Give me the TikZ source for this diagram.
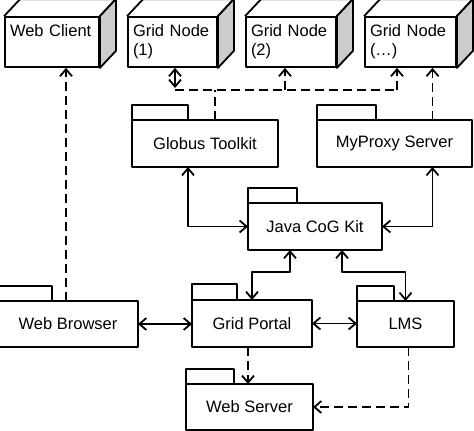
\documentclass[tikz,border=0pt]{standalone}
\usepackage{fontspec}
\setmainfont{Liberation Sans}
\usetikzlibrary{arrows.meta}
\begin{document}
\begin{tikzpicture}[x=1pt, y=-1pt, line width=1.8pt, line join=round,
	font=\fontsize{16.5}{19}\selectfont,
	>={Straight Barb[length=7pt, width=12pt]},
	pkg/.style={draw, rectangle, inner sep=0pt, outer sep=0pt},
	box3d/.style={draw, rectangle, inner xsep=5pt, align=left},
	sline/.style={line width=1.8pt},
	dline/.style={line width=1.8pt, dash pattern=on 9pt off 5pt}]
	\useasboundingbox (0,0) rectangle (474,431);
	
	% Các nút 3D phía trên
	\node[box3d, minimum width=94, minimum height=50, text width=84] (client) at (52,42) {Web Client\\\vphantom{(1)}};
	\node[box3d, minimum width=89, minimum height=50, text width=79] (g1) at (172.5,42) {Grid Node\\(1)};
	\node[box3d, minimum width=90, minimum height=50, text width=80] (g2) at (291,42) {Grid Node\\(2)};
	\node[box3d, minimum width=91, minimum height=50, text width=81] (gN) at (410.5,42) {Grid Node\\(\dots)};
	% Mặt trên và mặt phải
	\draw (client.north west) -- ++(16,-17) -- ([shift={(16,-17)}]client.north east) -- (client.north east);
	\draw[fill=gray!40] (client.north east) -- ([shift={(16,-17)}]client.north east) -- ([shift={(16,-17)}]client.south east) -- (client.south east) -- cycle;
	\draw (g1.north west) -- ++(16,-17) -- ([shift={(16,-17)}]g1.north east) -- (g1.north east);
	\draw[fill=gray!40] (g1.north east) -- ([shift={(16,-17)}]g1.north east) -- ([shift={(16,-17)}]g1.south east) -- (g1.south east) -- cycle;
	\draw (g2.north west) -- ++(16,-17) -- ([shift={(16,-17)}]g2.north east) -- (g2.north east);
	\draw[fill=gray!40] (g2.north east) -- ([shift={(16,-17)}]g2.north east) -- ([shift={(16,-17)}]g2.south east) -- (g2.south east) -- cycle;
	\draw (gN.north west) -- ++(16,-17) -- ([shift={(16,-17)}]gN.north east) -- (gN.north east);
	\draw[fill=gray!40] (gN.north east) -- ([shift={(16,-17)}]gN.north east) -- ([shift={(16,-17)}]gN.south east) -- (gN.south east) -- cycle;
	
	% Các gói (package)
	\node[pkg, minimum width=146, minimum height=47] (globus) at (205,143.5) {Globus Toolkit};
	\node[pkg, minimum width=155, minimum height=47] (myproxy) at (394.5,143.5) {MyProxy Server};
	\node[pkg, minimum width=134, minimum height=47] (java) at (315,226.5) {Java CoG Kit};
	\node[pkg, minimum width=140, minimum height=46] (browser) at (68,324) {Web Browser};
	\node[pkg, minimum width=120, minimum height=47] (portal) at (252,323.5) {Grid Portal};
	\node[pkg, minimum width=97, minimum height=46] (lms) at (405.5,324) {LMS};
	\node[pkg, minimum width=127, minimum height=46] (webserver) at (249.5,407) {Web Server};
	% Tab của gói
	\draw (globus.north west) -- ++(0,-15) -- ++(56,0) -- ++(0,15);
	\draw (myproxy.north west) -- ++(0,-15) -- ++(59,0) -- ++(0,15);
	\draw (java.north west) -- ++(0,-15) -- ++(49,0) -- ++(0,15);
	\draw (browser.north west) -- ++(0,-15) -- ++(54,0) -- ++(0,15);
	\draw (portal.north west) -- ++(0,-16) -- ++(45,0) -- ++(0,16);
	\draw (lms.north west) -- ++(0,-15) -- ++(37,0) -- ++(0,15);
	\draw (webserver.north west) -- ++(0,-15) -- ++(48,0) -- ++(0,15);
	
	% Đường nét đứt nối tới các Grid Node
	\coordinate (bus) at (0,90);
	\coordinate (jrow) at (0,272);
	\draw[dline] ([xshift=10pt]globus.north) -- ([xshift=10pt]globus.north |- bus);
	\draw[dline] ([xshift=2.5pt]g1.south |- bus) -- ([xshift=-13.5pt]gN.south |- bus);
	\draw[sline, <->] ([xshift=2.5pt]g1.south) -- ([xshift=2.5pt, yshift=2pt]g1.south |- bus);
	\draw[dline, ->] ([xshift=-6pt]g2.south |- bus) -- ([xshift=-6pt]g2.south);
	\draw[dline, ->] ([xshift=-13.5pt]gN.south |- bus) -- ([xshift=-13.5pt]gN.south);
	\draw[dline, ->] ([xshift=38pt]myproxy.north) -- ([xshift=38pt]myproxy.north |- gN.south);
	\draw[dline, ->] ([xshift=-2pt]browser.north) -- ([xshift=-2pt]browser.north |- client.south);
	
	% Mũi tên hai chiều
	\draw[sline, <->] ([xshift=-17pt]globus.south) |- (java.west);
	\draw[sline, <->] ([xshift=38pt]myproxy.south) |- (java.east);
	\draw[sline, <->] ([xshift=-25pt]java.south) -- ([xshift=-25pt]java.south |- jrow) -| (portal.north);
	\draw[sline, <->] ([xshift=27pt]java.south) -- ([xshift=27pt]java.south |- jrow) -| (lms.north);
	\draw[sline, <->] (browser.east) -- (browser.east -| portal.west);
	\draw[sline, <->] (portal.east) -- (portal.east -| lms.west);
	
	% Web Server
	\draw[dline, ->] ([xshift=-4pt]portal.south) -- ([xshift=-4pt]portal.south |- webserver.north);
	\draw[dline, ->] ([xshift=3pt]lms.south) |- (webserver.east);
\end{tikzpicture}
\end{document}
